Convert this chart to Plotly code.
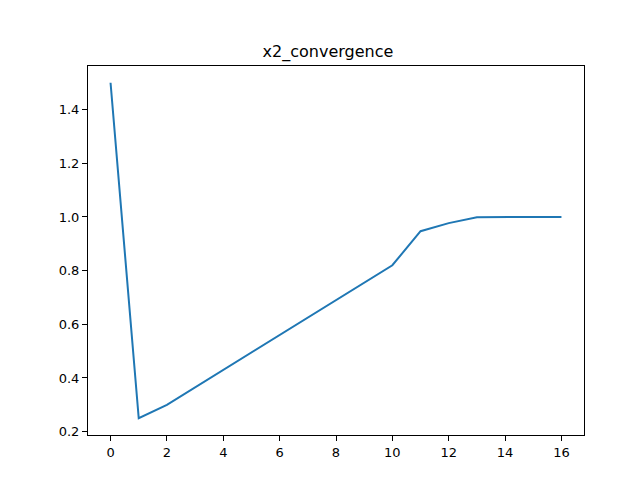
import plotly.graph_objects as go

x_vals = list(range(17))
y_vals = [1.5, 0.25, 0.3, 0.365, 0.43, 0.495, 0.56, 0.625, 0.69, 0.755, 0.82,
          0.947, 0.977, 0.999, 1.0, 1.0, 1.0]
x_ticks = [0, 2, 4, 6, 8, 10, 12, 14, 16]
y_ticks = [0.2, 0.4, 0.6, 0.8, 1.0, 1.2, 1.4]

fig = go.Figure(go.Scatter(x=x_vals, y=y_vals, mode="lines",
                           line=dict(color="#1f77b4", width=2)))
ax = dict(showgrid=False, zeroline=False, showline=True, mirror=True,
          linecolor="black", linewidth=1, ticks="outside", ticklen=5,
          tickcolor="black", tickfont=dict(size=13, color="black"),
          automargin=False)
fig.update_xaxes(range=[-0.8, 16.8], tickvals=x_ticks, **ax)
fig.update_yaxes(range=[0.1875, 1.5625], tickvals=y_ticks,
                 ticktext=[f"{v:.1f}" for v in y_ticks], **ax)
fig.update_layout(
    width=640, height=480, paper_bgcolor="white", plot_bgcolor="white",
    margin=dict(l=80, r=64, t=58, b=53, pad=0, autoexpand=False),
    font=dict(family="DejaVu Sans", color="black"),
    title=dict(text="x2_convergence", x=0.5, xanchor="center", y=0.91,
               yanchor="middle", font=dict(size=16)),
    showlegend=False,
)
fig.write_html("out.html")
